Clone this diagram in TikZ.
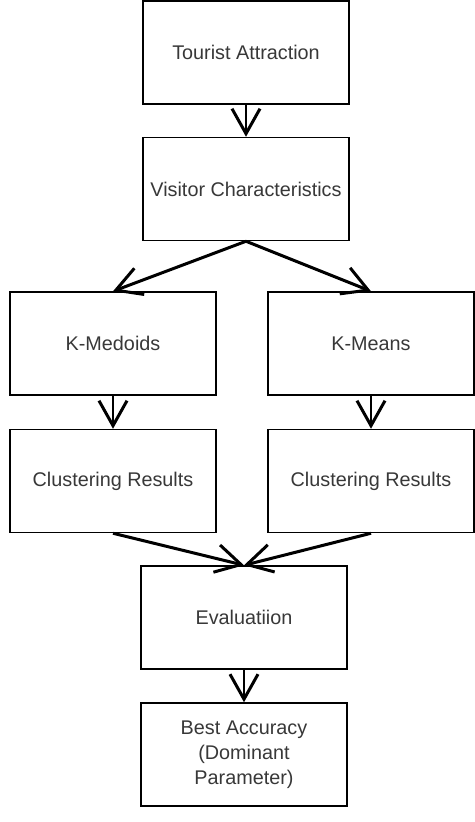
\documentclass[tikz,border=0pt]{standalone}
\usepackage{fontspec}
\setmainfont{Liberation Sans}
\usetikzlibrary{arrows.meta}
\tikzset{
  box/.style={draw=black, line width=1.5pt, minimum width=206pt, minimum height=103pt, inner sep=0pt, align=center, text=black!78, font=\fontsize{19.8}{25}\selectfont},
  conn/.style={line width=1.5pt, -{Straight Barb[length=25pt,width=28pt,line width=3pt]}},
  diag/.style={conn, line width=3pt}
}
\begin{document}
\begin{tikzpicture}[x=1pt,y=-1pt]
\useasboundingbox (0,0) rectangle (474,822);
\fill[white] (0,0) rectangle (474,822);
\node[box] (A) at (246,52.5) {Tourist Attraction};
\node[box] (B) at (246,189) {Visitor Characteristics};
\node[box] (C) at (113,343.5) {K-Medoids};
\node[box] (D) at (371,343.5) {K-Means};
\node[box] (E) at (113,481) {Clustering Results};
\node[box] (F) at (371,481) {Clustering Results};
\node[box] (G) at (244,617.5) {Evaluatiion};
\node[box] (H) at (244,754.5) {Best Accuracy\\(Dominant\\Parameter)};
\draw[conn] (A.south) -- (B.north);
\draw[diag] (B.south) -- (C.north);
\draw[diag] (B.south) -- (D.north);
\draw[conn] (C.south) -- (E.north);
\draw[conn] (D.south) -- (F.north);
\draw[diag] (E.south) -- (G.north);
\draw[diag] (F.south) -- (G.north);
\draw[conn] (G.south) -- (H.north);
\end{tikzpicture}
\end{document}
